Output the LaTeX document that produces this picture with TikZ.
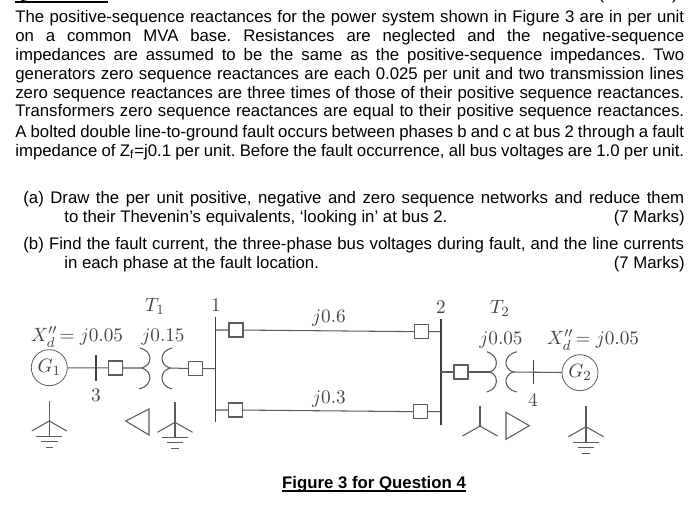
\documentclass[tikz,border=0pt]{standalone}
\usepackage{fontspec}
\setmainfont{Liberation Sans}
\usepackage{amsmath}
\usetikzlibrary{positioning,calc}
\definecolor{linegray}{gray}{0.36}
\definecolor{labelgray}{gray}{0.27}
\frenchspacing
\newcommand{\bodyline}[1]{\makebox[13.38cm][s]{#1}}
\tikzset{
    bodytext/.style={inner sep=0pt,anchor=base west,font=\fontsize{9.55}{11}\selectfont},
    marks/.style={inner sep=0pt,anchor=base east,font=\fontsize{9.55}{11}\selectfont},
    headtext/.style={inner sep=0pt,anchor=base,font=\fontsize{9.55}{11}\selectfont\bfseries},
    sym/.style={text=labelgray,inner sep=0pt,font=\fontsize{11}{13}\selectfont},
    wire/.style={draw=linegray,line width=0.6pt},
    busbar/.style={draw=black!75,line width=0.8pt},
    breaker/.style={draw=linegray,fill=white,line width=0.6pt,minimum size=0.28cm,inner sep=0pt},
    gen/.style={draw=linegray,line width=0.45pt,circle,minimum size=0.72cm,inner sep=0pt,text=labelgray,font=\fontsize{11}{13}\selectfont},
    wye/.pic={
        \draw[wire] (0,-20.5) -- (0,0);
        \draw[wire] (-17.5,10) -- (0,0) -- (17.5,10);
    },
    gndwye/.pic={
        \draw[wire] (0,-20.5) -- (0,15.5);
        \draw[wire] (-17.5,10) -- (0,0) -- (17.5,10);
        \draw[wire] (-13,15.5) -- (13,15.5);
        \draw[wire] (-8.3,20.5) -- (8.3,20.5);
        \draw[wire] (-3.7,26.5) -- (3.7,26.5);
    }
}
\begin{document}
\begin{tikzpicture}[x=0.02cm,y=-0.02cm]
    \useasboundingbox (0,0) rectangle (700,507);
    \fill[white] (0,0) rectangle (700,507);

    % Header, cut by the top edge
    \node[headtext,anchor=base west] (head) at (15,-1) {Question 4:};
    \draw[line width=0.9pt] ($(head.base west)+(0,3)$) -- ($(head.base east)+(0,3)$);
    \node[marks] (headm) at (678,0) {(11 Marks)};

    % Question text
    \node[bodytext] (ln1) at (15,22) {\bodyline{The positive-sequence reactances for the power system shown in Figure 3 are in per unit}};
    \node[bodytext] (ln2) at (15,41) {\bodyline{on a common MVA base. Resistances are neglected and the negative-sequence}};
    \node[bodytext] (ln3) at (15,60) {\bodyline{impedances are assumed to be the same as the positive-sequence impedances. Two}};
    \node[bodytext] (ln4) at (15,79) {\bodyline{generators zero sequence reactances are each 0.025 per unit and two transmission lines}};
    \node[bodytext] (ln5) at (15,98) {\bodyline{zero sequence reactances are three times of those of their positive sequence reactances.}};
    \node[bodytext] (ln6) at (15,116) {\bodyline{Transformers zero sequence reactances are equal to their positive sequence reactances.}};
    \node[bodytext] (ln7) at (15,137) {\bodyline{A bolted double line-to-ground fault occurs between phases b and c at bus 2 through a fault}};
    \node[bodytext] (ln8) at (15,156) {\bodyline{impedance of Z\textsubscript{f}=j0.1 per unit. Before the fault occurrence, all bus voltages are 1.0 per unit.}};

    % Parts
    \node[bodytext] (parta) at (23,203) {\makebox[13.22cm][s]{(a) Draw the per unit positive, negative and zero sequence networks and reduce them}};
    \node[bodytext] (partac) at (64,222) {to their Thevenin's equivalents, ‘looking in’ at bus 2.};
    \node[marks] (marka) at (685,222) {(7 Marks)};
    \node[bodytext] (partb) at (23,249) {\makebox[13.22cm][s]{(b) Find the fault current, the three-phase bus voltages during fault, and the line currents}};
    \node[bodytext] (partbc) at (64,268) {in each phase at the fault location.};
    \node[marks] (markb) at (685,268) {(7 Marks)};

    % Left side
    \node[gen] (g1) at (49.3,367.7) {$G_1$};
    \coordinate (b3t) at (96,355);
    \coordinate (b3b) at (96,381);
    \node[breaker] (s3) at (115.7,368) {};
    \coordinate (t1a) at (141.7,368);
    \coordinate (t1b) at (170,368);
    \node[breaker] (s1) at (195.7,368.7) {};
    \coordinate (b1t) at (215.7,317);
    \coordinate (b1b) at (215.7,422);
    \coordinate (b1m) at (215.7,368.7);
    \draw[wire] (g1) -- (s3) -- (t1a);
    \draw[wire] (t1b) -- (s1) -- (b1m);
    \draw[busbar] (b3t) -- (b3b);
    \draw[busbar] (b1t) -- (b1b);
    \draw[wire] (140,348) .. controls (153,351) and (153,365) .. (t1a) .. controls (153,371) and (153,386) .. (139,389);
    \draw[wire] (172,348) .. controls (159,351) and (159,365) .. (t1b) .. controls (159,371) and (159,386) .. (172,389);

    % Lines
    \node[breaker] (s1u) at (236,330) {};
    \node[breaker] (s1d) at (235.7,410) {};
    \node[breaker] (s2u) at (421.7,331.7) {};
    \node[breaker] (s2d) at (420.7,411.7) {};
    \coordinate (b2t) at (441,319);
    \coordinate (b2b) at (441,425);
    \draw[wire] (215.7,330) -- (s1u) -- (s2u) -- (441,331.7);
    \draw[wire] (215.7,410) -- (s1d) -- (s2d) -- (441,411.7);
    \draw[busbar] (b2t) -- (b2b);

    % Right side
    \node[breaker] (s2) at (461,372) {};
    \coordinate (t2a) at (490,372);
    \coordinate (t2b) at (513.3,372);
    \coordinate (b4t) at (533.3,360);
    \coordinate (b4b) at (533.3,384);
    \node[gen] (g2) at (580,372.7) {$G_2$};
    \draw[wire] (441,372) -- (s2) -- (t2a);
    \draw[wire] (t2b) -- (g2);
    \draw[busbar] (b4t) -- (b4b);
    \draw[wire] (486.7,351.7) .. controls (499,355) and (499,369) .. (t2a) .. controls (499,375) and (499,389) .. (486.7,392);
    \draw[wire] (516.7,351.7) .. controls (503,355) and (503,369) .. (t2b) .. controls (503,375) and (503,389) .. (516.7,392);

    % Winding symbols
    \pic at (49.3,421) {gndwye};
    \pic at (175,422.3) {gndwye};
    \pic at (480,426) {wye};
    \pic at (586,426.7) {gndwye};
    \draw[wire] (125.7,421) -- (149,409) -- (149,435) -- cycle;
    \draw[wire] (506,412.3) -- (529.3,425.7) -- (506,439.3) -- cycle;

    % Labels
    \node[sym] (lt1) at (155,306) {$T_1$};
    \node[sym] (l1) at (216,305) {$1$};
    \node[sym] (lxg1) at (77,337) {$X_d''\!=j0.05$};
    \node[sym] (lj15) at (163,337) {$j0.15$};
    \node[sym] (lj6) at (329,318) {$j0.6$};
    \node[sym] (lj3) at (329,399) {$j0.3$};
    \node[sym] (l3) at (96,395) {$3$};
    \node[sym] (l2) at (441,307) {$2$};
    \node[sym] (lt2) at (500,308) {$T_2$};
    \node[sym] (lj05) at (501,340) {$j0.05$};
    \node[sym] (lxg2) at (593,340) {$X_d''\!=j0.05$};
    \node[sym] (l4) at (533,400) {$4$};

    % Caption
    \node[headtext] (cap) at (374,488) {Figure 3 for Question 4};
    \draw[line width=0.9pt] ($(cap.base west)+(0,3)$) -- ($(cap.base east)+(0,3)$);
\end{tikzpicture}
\end{document}
